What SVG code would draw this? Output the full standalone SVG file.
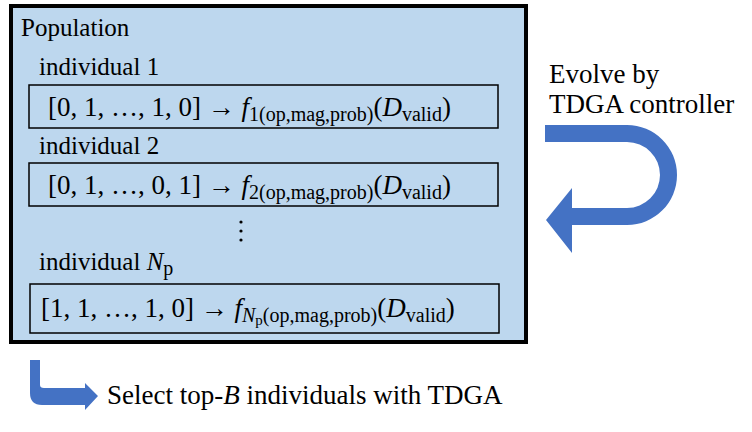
<svg xmlns="http://www.w3.org/2000/svg" width="752" height="432" viewBox="0 0 752 432" font-family="'Liberation Serif', 'Times New Roman', 'DejaVu Serif', serif">
<style>
text{font-family:'Liberation Serif','Times New Roman',serif;fill:#000}
.t{font-size:25px}
.f{font-size:27px}
.s{font-size:20px}
.i{font-style:italic}
.box{fill:none;stroke:#000;stroke-width:1.5}
.arr{fill:#4472C4}
</style>
<g id="population">
<rect x="11" y="6" width="515" height="336" fill="#BDD7EE" stroke="#000" stroke-width="4"/>
<text class="t" x="21" y="36">Population</text>
</g>
<g id="individual1">
<text class="t" x="39" y="75">individual 1</text>
<rect class="box" x="29" y="85" width="469" height="43"/>
<text class="f" x="48" y="116">[0, 1, …, 1, 0] → <tspan class="i">f</tspan><tspan class="s" dy="5">1(op,mag,prob)</tspan><tspan dy="-5">(</tspan><tspan class="i">D</tspan><tspan class="s" dy="5">valid</tspan><tspan dy="-5">)</tspan></text>
</g>
<g id="individual2">
<text class="t" x="39" y="154">individual 2</text>
<rect class="box" x="29" y="163" width="469" height="43"/>
<text class="f" x="48" y="194">[0, 1, …, 0, 1] → <tspan class="i">f</tspan><tspan class="s" dy="5">2(op,mag,prob)</tspan><tspan dy="-5">(</tspan><tspan class="i">D</tspan><tspan class="s" dy="5">valid</tspan><tspan dy="-5">)</tspan></text>
</g>
<g id="dots">
<circle cx="241" cy="222" r="1.6"/><circle cx="241" cy="231" r="1.6"/><circle cx="241" cy="240" r="1.6"/>
</g>
<g id="individualN">
<text class="t" x="39" y="270">individual <tspan class="i">N</tspan><tspan class="s" dy="5">p</tspan></text>
<rect class="box" x="30" y="284" width="469" height="49"/>
<text class="f" x="41" y="317">[1, 1, …, 1, 0] → <tspan class="i">f</tspan><tspan class="s i" dy="5">N</tspan><tspan font-size="15" dy="3">p</tspan><tspan class="s" dy="-3">(op,mag,prob)</tspan><tspan dy="-5">(</tspan><tspan class="i">D</tspan><tspan class="s" dy="5">valid</tspan><tspan dy="-5">)</tspan></text>
</g>
<g id="connectors">
<path class="arr" d="M545 125 H627 A50 50 0 0 1 627 225 H572 V253 L546 220 L572 188 V208 H627 A33 33 0 0 0 627 142 H545 Z"/>
<path class="arr" d="M30 360 H40 V385 Q40 388 44 388 H85 V383 L98 396 L85 410 V405 H42 Q30 405 30 393 Z"/>
</g>
<g id="labels">
<text class="f" x="549" y="83">Evolve by</text>
<text class="f" x="549" y="113">TDGA controller</text>
<text class="f" x="107" y="404">Select top-<tspan class="i">B</tspan> individuals with TDGA</text>
</g>
</svg>
